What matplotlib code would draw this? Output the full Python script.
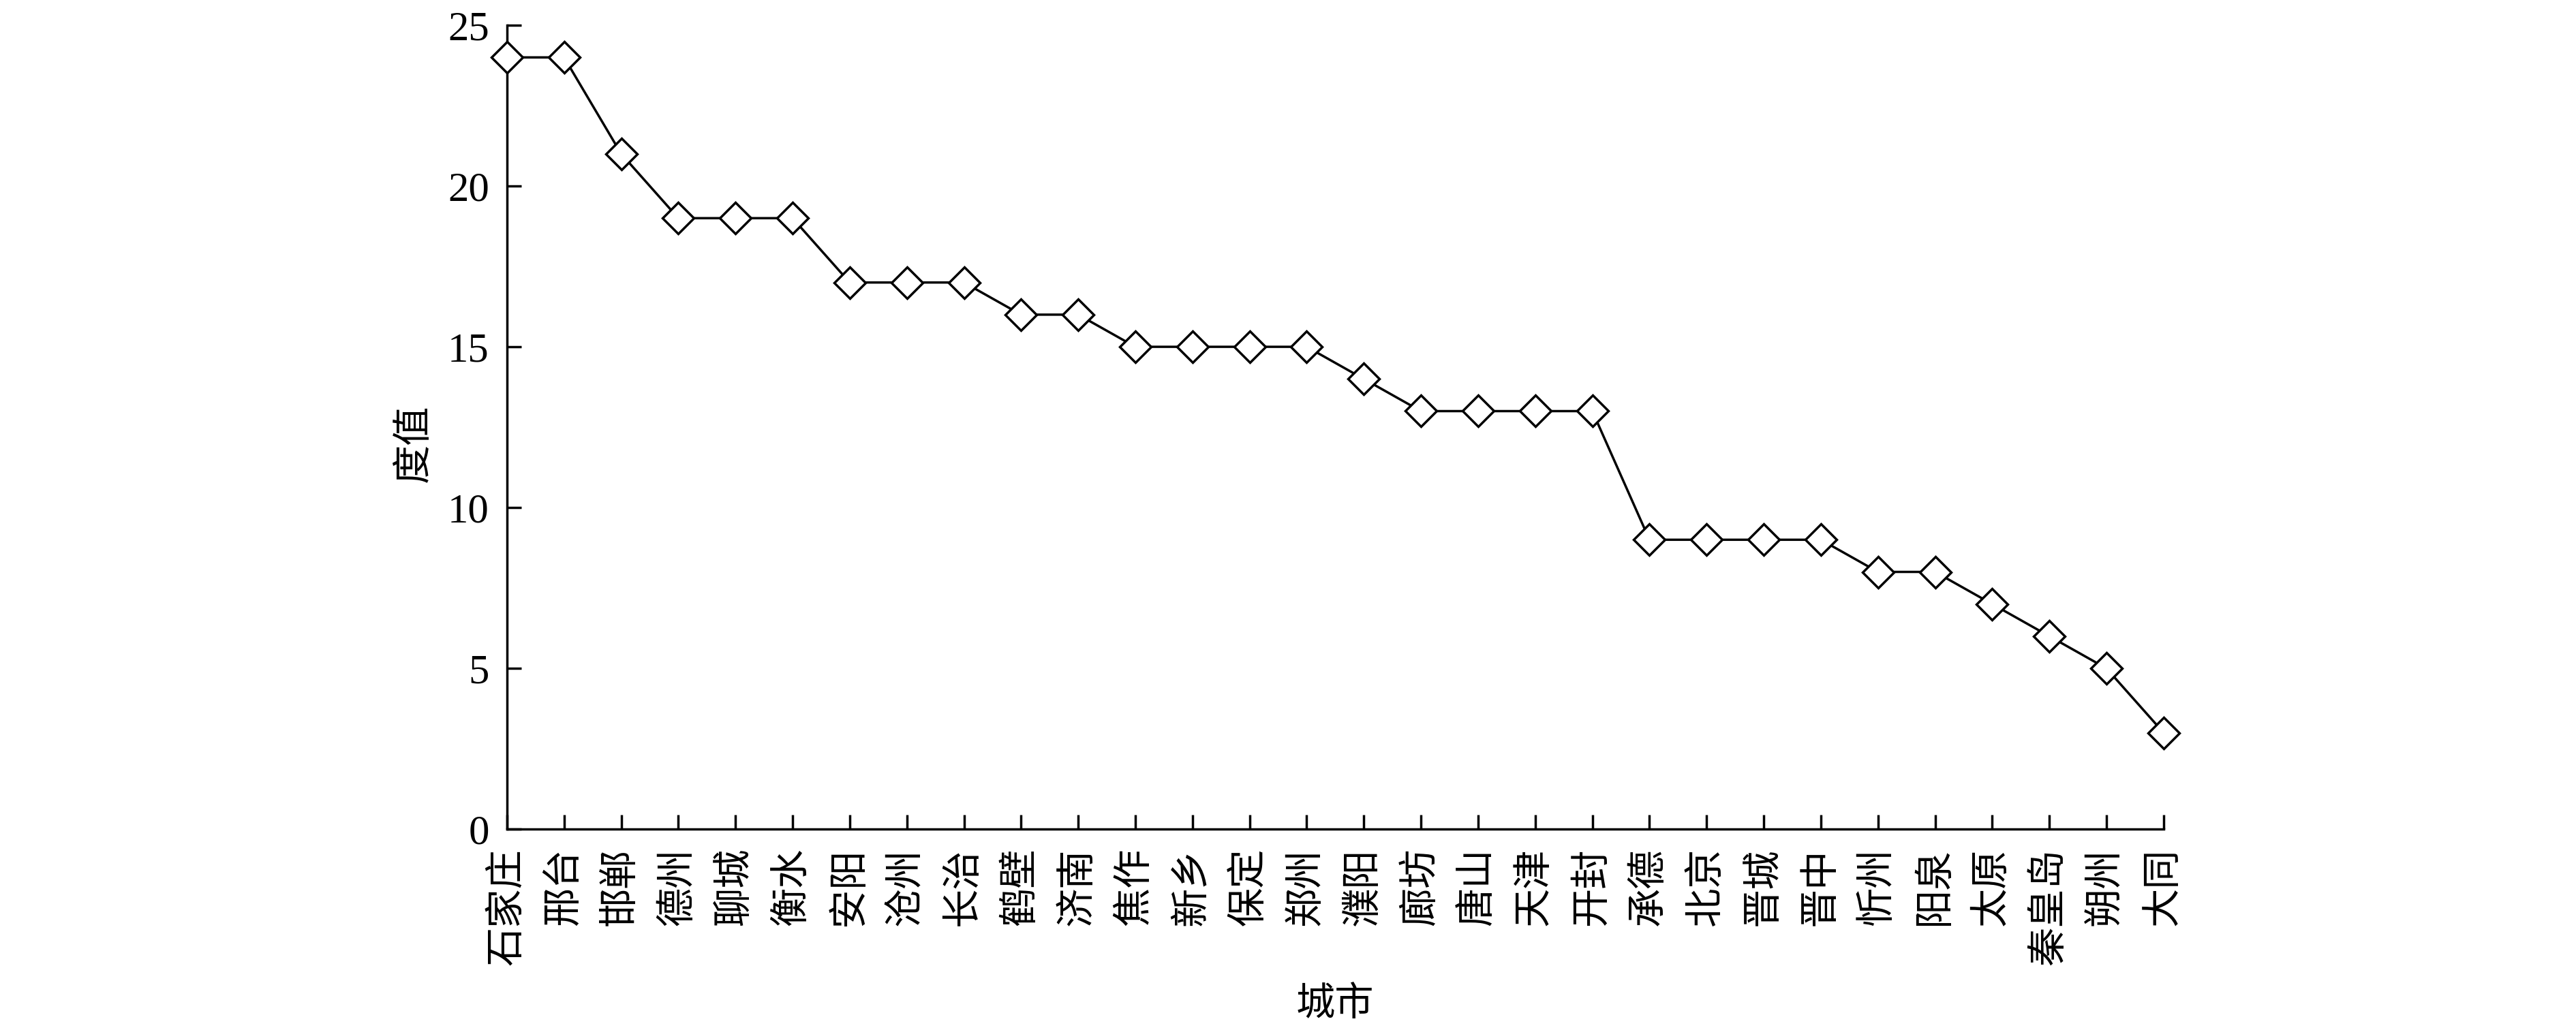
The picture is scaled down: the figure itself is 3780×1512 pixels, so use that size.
import matplotlib.pyplot as plt

plt.rcParams['font.family'] = ['Liberation Serif', 'Noto Sans CJK SC']

# city names and degree values
cities = ['石家庄', '邢台', '邯郸', '德州', '聊城', '衡水', '安阳', '沧州', '长治', '鹤壁',
          '济南', '焦作', '新乡', '保定', '郑州', '濮阳', '廊坊', '唐山', '天津', '开封',
          '承德', '北京', '晋城', '晋中', '忻州', '阳泉', '太原', '秦皇岛', '朔州', '大同']
degree = [24, 24, 21, 19, 19, 19, 17, 17, 17, 16,
          16, 15, 15, 15, 15, 14, 13, 13, 13, 13,
          9, 9, 9, 9, 8, 8, 7, 6, 5, 3]
y_ticks = [0, 5, 10, 15, 20, 25]

fig = plt.figure(figsize=(15.12, 6.048), dpi=250)
ax = fig.add_axes([0.1968, 0.195, 0.6431, 0.7805])

x = list(range(len(cities)))
ax.plot(x, degree, color='black', linewidth=1.0, marker='D', markersize=9.5,
        markerfacecolor='white', markeredgecolor='black', markeredgewidth=1.0,
        clip_on=False, zorder=3)

ax.set_xlim(0, len(cities) - 1)
ax.set_ylim(0, 25)
ax.set_xticks(x)
ax.set_xticklabels(cities, rotation=90, fontsize=16.5)
ax.set_yticks(y_ticks)
ax.set_yticklabels([str(v) for v in y_ticks], fontsize=17.5)

ax.tick_params(direction='in', length=6, width=1.0, colors='black')
ax.tick_params(axis='x', pad=8)
ax.tick_params(axis='y', pad=7.5)

for side in ['top', 'right']:
    ax.spines[side].set_visible(False)
for side in ['left', 'bottom']:
    ax.spines[side].set_linewidth(1.0)

ax.set_ylabel('度值', fontsize=16.5)
ax.set_xlabel('城市', fontsize=16.5)
ax.yaxis.set_label_coords(-0.045, 0.48)
ax.xaxis.set_label_coords(0.5, -0.196)

fig.savefig('out.png', dpi=250)
